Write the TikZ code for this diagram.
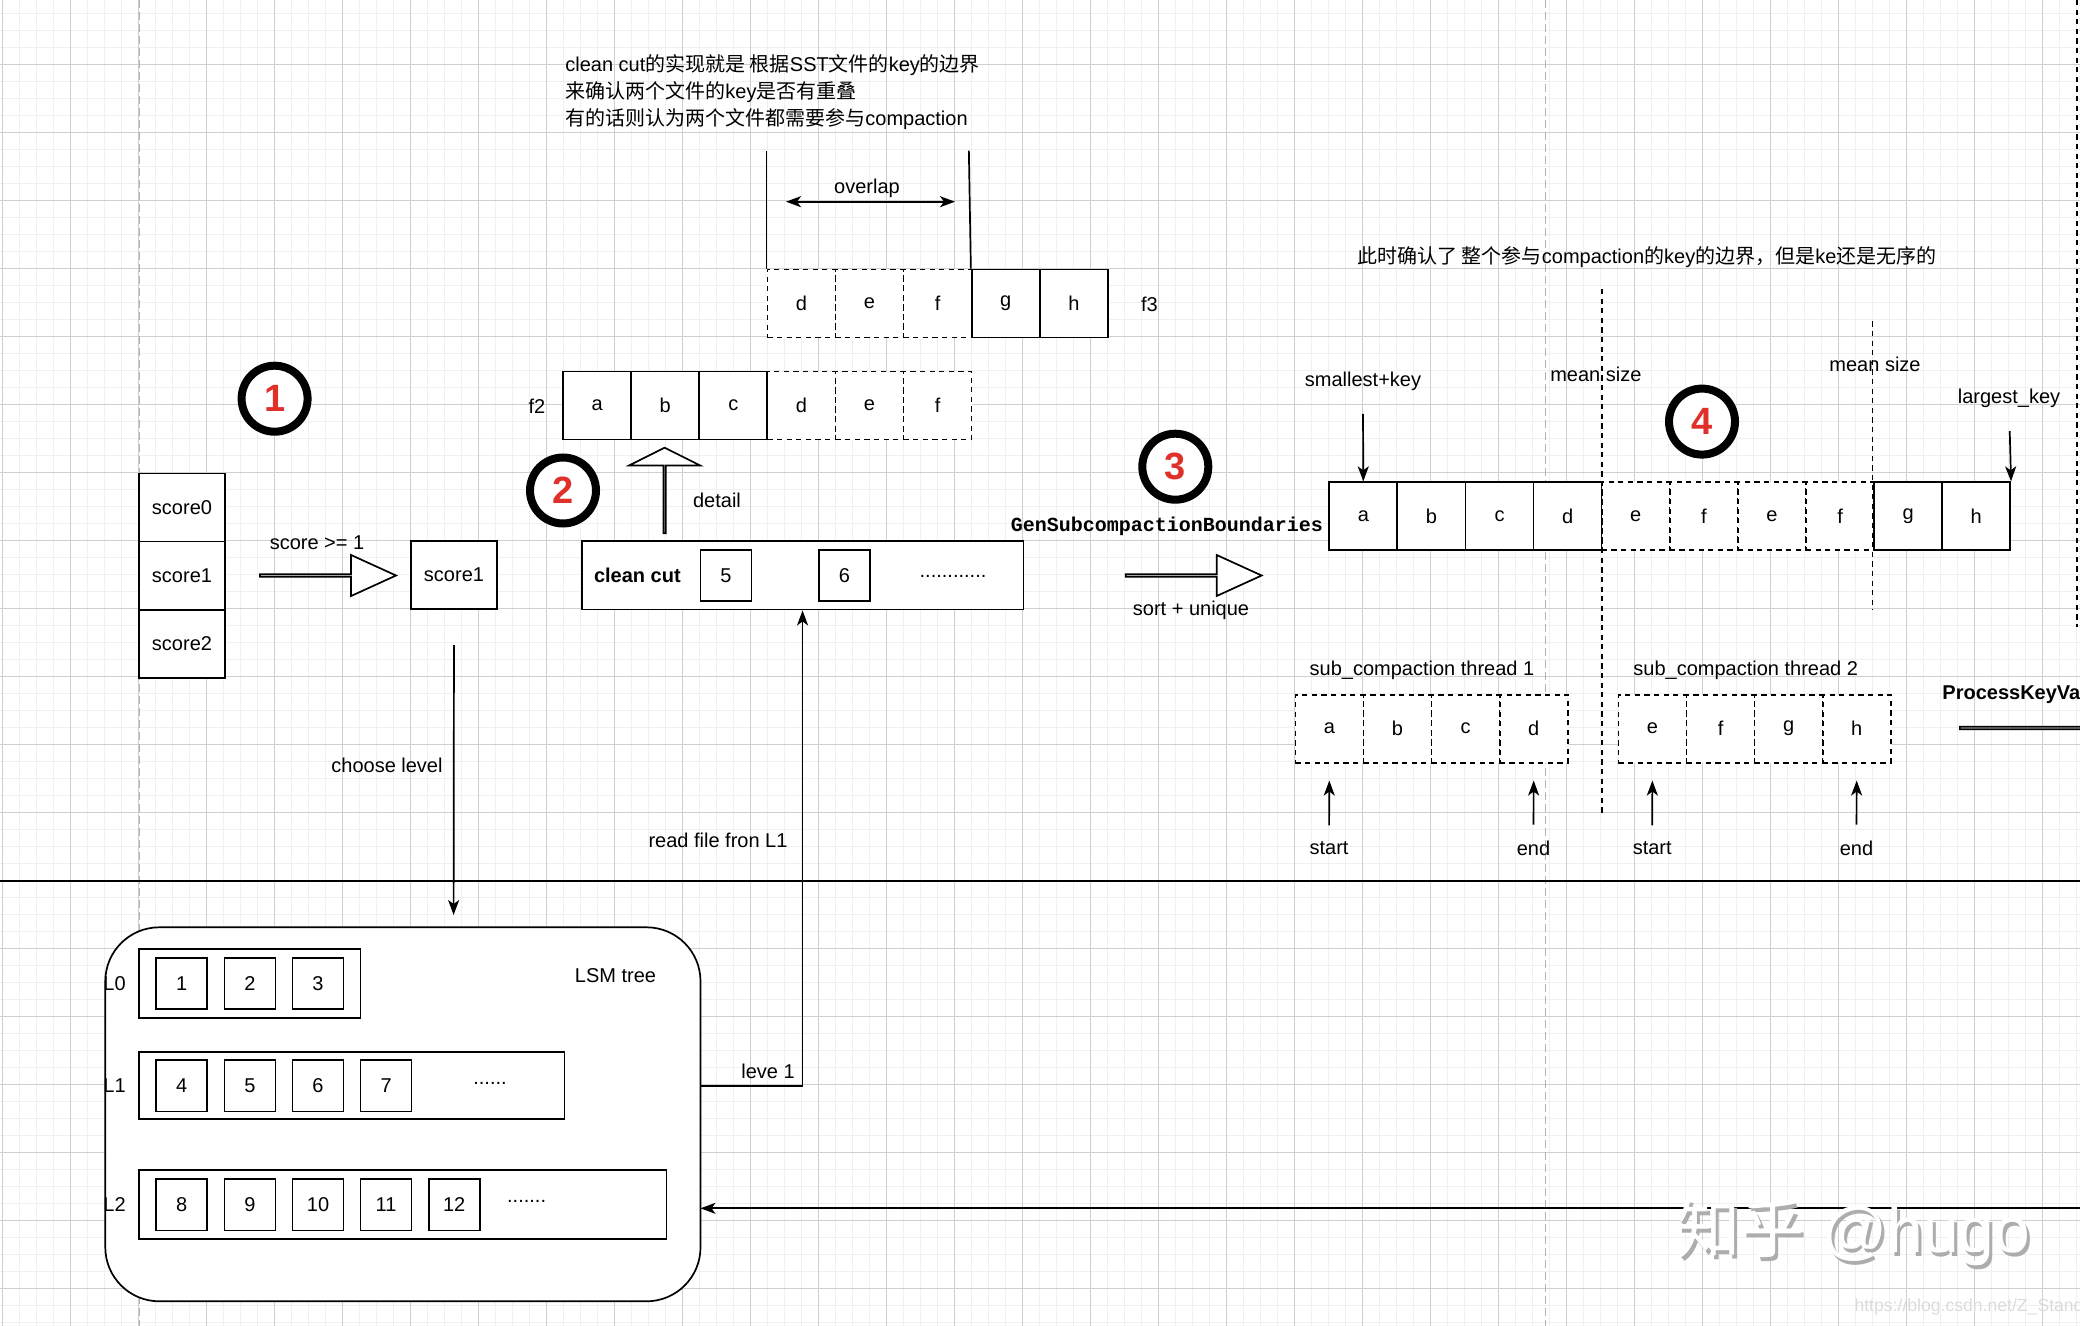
\documentclass[tikz,border=0pt]{standalone}
\usepackage{fontspec}
\setmainfont{Liberation Sans}
\setmonofont{Liberation Mono}
\newfontfamily\cjk{Noto Sans CJK SC}
\newcommand{\zh}[1]{{\cjk #1}}
\usetikzlibrary{arrows.meta,positioning,shapes.arrows}
\definecolor{gridmajor}{HTML}{CFCFCF}
\definecolor{gridminor}{HTML}{F0F0F0}
\definecolor{mark}{HTML}{E0302A}
\tikzset{
  cell/.style={draw,line width=.85pt,fill=white,minimum width=34pt,minimum height=34pt,inner sep=0pt},
  dcell/.style={cell,dash pattern=on 2.6pt off 2.2pt},
  label/.style={inner sep=0pt},
  sstfile/.style={draw,line width=.85pt,fill=white,minimum width=25.5pt,minimum height=25.7pt,inner sep=0pt,
    append after command={
      (\tikzlastnode.north east) ++(-4pt,1pt) coordinate (foldtip)
      [draw,line width=.85pt] (foldtip) -- ++(4.5pt,-5.5pt) -- ++(-3.5pt,1pt) -- cycle
    }},
  levelbox/.style={draw,line width=.85pt,fill=white,inner sep=0pt},
  numcircle/.style={circle,draw,line width=4pt,fill=white,minimum size=66pt/2,inner sep=0pt,
    text=mark,font=\bfseries\fontsize{19}{19}\selectfont},
  blockarrow/.style={single arrow,draw,line width=.85pt,fill=white,inner sep=0pt,
    minimum width=20.5pt,minimum height=68pt,single arrow head extend=6.2pt,
    single arrow tip angle=49,single arrow head indent=0pt},
}
\begin{document}
\begin{tikzpicture}[x=.5pt,y=-.5pt,node distance=34.05pt,on grid,>={Stealth[length=7.5pt,width=5.5pt,inset=2pt]}]
\useasboundingbox (0,0) rectangle (2080,1326);
% grid
\foreach \gx in {2.8,19.8,...,2080} \draw[gridminor,line width=.4pt] (\gx,0) -- (\gx,1326);
\foreach \gy in {13.3,30.3,...,1326} \draw[gridminor,line width=.4pt] (0,\gy) -- (2080,\gy);
\foreach \gx in {2.8,70.8,...,2080} \draw[gridmajor,line width=.5pt] (\gx,0) -- (\gx,1326);
\foreach \gy in {64.3,132.3,...,1326} \draw[gridmajor,line width=.5pt] (0,\gy) -- (2080,\gy);
\draw[gridmajor!85!black,line width=.5pt,dash pattern=on 4pt off 2pt] (139.3,0) -- (139.3,1326);
\draw[gridmajor!85!black,line width=.5pt,dash pattern=on 4pt off 2pt] (1545.4,0) -- (1545.4,1326);
\coordinate (ruleleft) at (0,881.3);
\coordinate (ruleright) at (2080,881.3);
\draw[line width=.85pt] (ruleleft) -- (ruleright);
% note on top
\node[label,anchor=west,align=left] (cleannote) at (565,92) {clean cut\zh{的实现就是 根据}SST\zh{文件的}key\zh{的边界}\\[1.5pt]
  \zh{来确认两个文件的}key\zh{是否有重叠}\\[1.5pt]
  \zh{有的话则认为两个文件都需要参与}compaction};
% f3
\node[dcell] (d3) at (801.4,303.5) {d};
\node[dcell] [right=of d3] (e3) {e};
\node[dcell] [right=of e3] (f3) {f};
\node[cell] [right=of f3] (g3) {g};
\node[cell] [right=of g3] (h3) {h};
\node[label] (f3name) at (1149.4,304) {f3};
\draw[line width=.85pt] (d3.north west) -- ++(0,-118) coordinate (overlapa);
\draw[line width=.85pt] (g3.north west) -- ++(-2,-118) coordinate (overlapb);
\coordinate (spana) at (786,201.7);
\coordinate (spanb) at (955,201.7);
\draw[<->,line width=.85pt] (spana) -- (spanb);
\node[label] (overlap) at (867,188) {overlap};
% f2
\node[dcell] (d2) at (801.4,405.5) {d};
\node[dcell] [right=of d2] (e2) {e};
\node[dcell] [right=of e2] (f2) {f};
\node[cell] [left=of d2] (c2) {c};
\node[cell] [left=of c2] (b2) {b};
\node[cell] [left=of b2] (a2) {a};
\node[label] (f2name) at (537,406) {f2};
% score
\node[cell,minimum width=42.75pt] (score0) at (182,507.5) {score0};
\node[cell,minimum width=42.75pt] [below=of score0] (score1) {score1};
\node[cell,minimum width=42.75pt] [below=of score1] (score2) {score2};
\node[blockarrow] (scorearrow) at (326.6,575.5) {};
\node[label] (scorerule) at (317,542.5) {score >= 1};
\node[cell,minimum width=42.75pt] (picked) at (454,575.2) {score1};
\node[numcircle] (mark1) at (274.6,398.7) {1};
\node[numcircle] (mark2) at (563,490.5) {2};
\node[numcircle] (mark3) at (1175.3,466.7) {3};
\node[numcircle] (mark4) at (1702,421.6) {4};
% clean cut
\node[levelbox,minimum width=220.85pt,minimum height=34.3pt] (cleancut) at (802.55,575.3) {};
\node[label] (cleanname) at (637.4,575) {\bfseries clean cut};
\node[sstfile] (file5) at (726,575.5) {5};
\node[sstfile] (file6) at (844.3,575.5) {6};
\node[label] (cleandots) at (953,576) {............};
\node[blockarrow,shape border rotate=90,minimum width=35.5pt,minimum height=42.8pt,
  single arrow head extend=12.6pt,single arrow tip angle=127] (detailarrow) at (664.6,490.8) {};
\node[label] (detail) at (717,500) {detail};
% merged keys
\node[dcell] (e4) at (1635.7,516.2) {e};
\node[dcell] [right=of e4] (f4) {f};
\node[dcell] [right=of f4] (e5) {e};
\node[dcell] [right=of e5] (f5) {f};
\node[cell] [left=of e4] (d4) {d};
\node[cell] [left=of d4] (c4) {c};
\node[cell] [left=of c4] (b4) {b};
\node[cell] [left=of b4] (a4) {a};
\node[cell] [right=of f5] (g4) {g};
\node[cell] [right=of g4] (h4) {h};
\node[label,anchor=west] (boundnote) at (1357,256.8) {\zh{此时确认了 整个参与}compaction\zh{的}key\zh{的边界，但是}ke\zh{还是无序的}};
\node[label] (genname) at (1167,526) {\ttfamily\bfseries GenSubcompactionBoundaries};
\node[blockarrow] (sortarrow) at (1192.2,575.5) {};
\node[label] (sortname) at (1191,610.7) {sort + unique};
\node[label] (smallest) at (1363,381.3) {smallest+key};
\node[label] (largest) at (2009,398.6) {largest\_key};
\coordinate (smallfrom) at (1363,413.8);
\coordinate (largefrom) at (2009.7,431);
\draw[->,line width=.85pt] (smallfrom) -- (a4.north);
\draw[->,line width=.85pt] (largefrom) -- (h4.north east);
\coordinate (meana) at (1601.7,289);
\coordinate (meanb) at (1601.7,813.6);
\coordinate (meanc) at (1872.4,321.4);
\coordinate (meand) at (1872.4,609.8);
\draw[line width=.85pt,dash pattern=on 2.6pt off 2.2pt] (meana) -- (meanb);
\draw[line width=.85pt,dash pattern=on 2.6pt off 2.2pt] (meanc) -- (meand);
\node[label] (mean1) at (1595.8,374.8) {mean size};
\node[label] (mean2) at (1875,364.8) {mean size};
% sub compaction threads
\node[dcell] (ta) at (1329.4,728.7) {a};
\node[dcell] [right=of ta] (tb) {b};
\node[dcell] [right=of tb] (tc) {c};
\node[dcell] [right=of tc] (td) {d};
\node[dcell] (te) at (1652.4,728.7) {e};
\node[dcell] [right=of te] (tf) {f};
\node[dcell] [right=of tf] (tg) {g};
\node[dcell] [right=of tg] (th) {h};
\node[label] (thread1) at (1422,670.5) {sub\_compaction thread 1};
\node[label] (thread2) at (1745.7,670.5) {sub\_compaction thread 2};
\node[label] (start1) at (1329,848.3) {start};
\node[label] (end1) at (1533.5,848.3) {end};
\node[label] (start2) at (1652.2,848.3) {start};
\node[label] (end2) at (1856.5,848.3) {end};
\draw[->,line width=.85pt,shorten <=8pt,shorten >=8.5pt] (start1.north) -- (ta.south);
\draw[->,line width=.85pt,shorten <=8pt,shorten >=8.5pt] (end1.north) -- (td.south);
\draw[->,line width=.85pt,shorten <=8pt,shorten >=8.5pt] (start2.north) -- (te.south);
\draw[->,line width=.85pt,shorten <=8pt,shorten >=8.5pt] (end2.north) -- (th.south);
\node[label,anchor=west] (process) at (1942,695) {\bfseries ProcessKeyVa};
\node[blockarrow,anchor=tail,minimum height=200pt] (processarrow) at (1959,728) {};
\coordinate (sideline) at (2077,0);
\coordinate (sidelineend) at (2077,627);
\draw[line width=.85pt,dash pattern=on 2.6pt off 2.2pt] (sideline) -- (sidelineend);
% LSM tree
\node[draw,line width=.85pt,fill=white,rounded corners=27pt,minimum width=297.6pt,minimum height=187pt,inner sep=0pt] (lsm) at (402.9,1114.3) {};
\node[label] (lsmname) at (615.5,976) {LSM tree};
\node[levelbox,minimum width=110.55pt,minimum height=34.2pt] (level0) at (249.85,983.5) {};
\node[levelbox,minimum width=212.6pt,minimum height=33.8pt] (level1) at (351.9,1085.5) {};
\node[levelbox,minimum width=263.6pt,minimum height=34.2pt] (level2) at (402.9,1204.5) {};
\node[label] (l0) at (114.6,984) {L0};
\node[label] (l1) at (114.6,1086) {L1};
\node[label] (l2) at (114.6,1205) {L2};
\node[sstfile] (file1) at (181.8,983.4) {1};
\node[sstfile] [right=of file1] (file2) {2};
\node[sstfile] [right=of file2] (file3) {3};
\node[sstfile] (file4b) at (181.8,1085.7) {4};
\node[sstfile] [right=of file4b] (file5b) {5};
\node[sstfile] [right=of file5b] (file6b) {6};
\node[sstfile] [right=of file6b] (file7) {7};
\node[sstfile] (file8) at (181.8,1204.7) {8};
\node[sstfile] [right=of file8] (file9) {9};
\node[sstfile] [right=of file9] (file10) {10};
\node[sstfile] [right=of file10] (file11) {11};
\node[sstfile] [right=of file11] (file12) {12};
\node[label] (l1dots) at (490,1083) {......};
\node[label] (l2dots) at (526.6,1201) {.......};
% connectors
\coordinate (choosetip) at (453.6,915);
\draw[->,line width=.85pt,shorten <=17.5pt] (picked.south) -- (choosetip);
\node[label] (choose) at (387,765) {choose level};
\coordinate (lsmout) at (700.5,1085.7);
\draw[->,line width=.85pt] (lsmout) -| (cleancut.south);
\node[label] (leve) at (768,1071) {leve 1};
\node[label] (readfile) at (718,840) {read file fron L1};
\coordinate (backfrom) at (2080,1208.3);
\coordinate (backto) at (700.5,1208.3);
\draw[->,line width=.85pt] (backfrom) -- (backto);
% watermarks
\node[label,text=black!32,font=\fontsize{32}{32}\selectfont] (wmshade) at (1856.5,1236) {\zh{知乎} @hugo};
\node[label,text=white,font=\fontsize{32}{32}\selectfont] (wmtext) at (1853.5,1232) {\zh{知乎} @hugo};
\node[label,text=black!14,font=\fontsize{8.8}{9}\selectfont] (csdn) at (1969,1307) {https://blog.csdn.net/Z\_Stand};
\end{tikzpicture}
\end{document}
